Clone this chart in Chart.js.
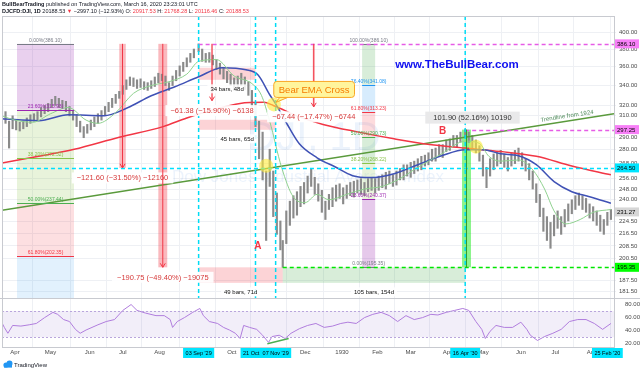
<!DOCTYPE html>
<html>
<head>
<meta charset="utf-8">
<title>DJI 1929-1930</title>
<script src="https://cdn.jsdelivr.net/npm/chart.js@4.4.1/dist/chart.umd.min.js"></script>
<style>
  html, body { margin: 0; padding: 0; background: #fff; }
  #wrap { position: relative; width: 640px; height: 371px; }
</style>
</head>
<body>
<div id="wrap"><canvas id="chart" width="640" height="371"></canvas></div>
<script>
// x values are calendar days counted from 1 Apr 1929
const monthDays = [0, 30, 63, 91, 122, 155, 183, 214, 245, 276, 306, 334, 365, 395, 427, 456, 487];
const monthLabels = ['Apr', 'May', 'Jun', 'Jul', 'Aug', '', 'Oct', '', 'Dec', '1930', 'Feb', 'Mar', 'Apr', 'May', 'Jun', 'Jul', 'Aug'];
const priceTicks = [400, 380, 360, 340, 320, 310, 290, 280, 268, 256, 248, 240, 224.5, 216.5, 208.5, 200.5, 187.5, 181.5];
const rsiTicks = [80, 60, 40, 20];

const barDays = [
  -11, -8, -5, -2, 1, 4, 7, 10, 13, 16, 19, 22, 25, 28, 31, 34, 37, 40, 43, 46,
  49, 52, 55, 58, 61, 64, 67, 70, 73, 76, 79, 82, 85, 88, 91, 94, 97, 100, 103, 106,
  109, 112, 115, 118, 121, 124, 127, 130, 133, 136, 139, 142, 145, 148, 151,
  155, 158, 161, 164, 167, 170, 173, 176, 179, 182, 185, 188, 191, 194, 197, 200, 203, 206, 209, 212,
  215, 218, 221, 224, 226,
  229, 232, 235, 238, 241, 244, 247, 250, 253, 256, 259, 262, 265, 268, 271, 274, 277, 280, 283, 286,
  289, 292, 295, 298, 301, 304, 307, 310, 313, 316, 319, 322, 325, 328, 331, 334, 337, 340, 343, 346,
  349, 352, 355, 358, 361, 364, 367, 370, 373, 376, 380,
  383, 386, 389, 392, 395, 398, 401, 404, 407, 410, 413, 416, 419, 422, 425, 428, 431, 434, 437, 440,
  443, 446, 449, 452, 455, 458, 461, 464, 467, 470, 473, 476, 479, 482, 485, 488, 491, 494, 497, 500, 503
];
const barLow = [
  308, 303, 281, 298, 297, 296, 298, 300, 303, 305, 306, 309, 312, 314, 318, 320, 318, 317, 314, 310,
  306, 300, 295, 290, 294, 297, 300, 303, 306, 310, 314, 318, 322, 327, 331, 336, 340, 339, 337, 338,
  336, 335, 337, 339, 343, 345, 340, 335, 340, 345, 350, 355, 360, 365, 370,
  377, 366, 365, 365, 362, 357, 352, 347, 343, 340, 335, 338, 340, 336, 330, 318, 300, 272, 255, 212,
  250, 228, 216, 206, 195.35,
  210, 222, 227, 229, 235, 237, 245, 250, 244, 239, 231, 226, 233, 235, 239, 241, 237, 241, 243, 242,
  245, 244, 243, 246, 247, 245, 247, 249, 248, 252, 250, 251, 255, 255, 258, 257, 260, 262, 263, 266,
  267, 270, 270, 274, 273, 278, 279, 282, 282, 286, 290,
  286, 281, 277, 270, 258, 249, 258, 263, 266, 268, 265, 262, 266, 268, 270, 266, 262, 255, 248, 238,
  228, 218, 212, 207, 215, 220, 216, 221, 225, 230, 233, 236, 233, 231, 227, 225, 222, 218, 216, 222, 226
];
const barHigh = [
  318, 314, 305, 310, 306, 304, 305, 308, 311, 312, 314, 318, 320, 322, 326, 329, 327, 325, 324, 319,
  315, 311, 305, 300, 302, 306, 309, 312, 315, 319, 323, 327, 331, 334, 340, 346, 349, 348, 346, 347,
  344, 343, 345, 349, 353, 352, 350, 343, 350, 356, 361, 365, 370, 375, 380,
  386.1, 380, 375, 376, 373, 368, 364, 359, 355, 352, 348, 350, 353, 349, 344, 335, 322, 305, 295, 262,
  280, 262, 245, 225, 212,
  232, 239, 243, 246, 250, 253, 258, 263.5, 257, 252, 247, 239, 244, 249, 251, 252, 249, 251, 253, 254,
  255, 256, 253, 256, 257, 256, 258, 259, 261, 262, 259, 262, 264, 267, 267, 269, 270, 272, 274, 275,
  277, 280, 281, 284, 284, 288, 289, 292, 292, 295, 297.25,
  295, 292, 288, 283, 275, 265, 272, 276, 278, 279, 276, 273, 277, 279, 281, 277, 272, 268, 262, 252,
  244, 234, 228, 224, 229, 232, 228, 233, 237, 240, 243, 245, 243, 241, 237, 235, 232, 229, 226, 231, 233
];

const ema20Days = [-11, 0, 15, 30, 45, 60, 70, 85, 100, 115, 130, 145, 155, 170, 185, 200, 208, 215, 225, 235, 245, 255, 265, 280, 295, 310, 325, 340, 360, 380, 392, 400, 410, 425, 437, 447, 455, 465, 477, 488, 503];
const ema20Vals = [310, 306, 304, 312, 318, 306, 303, 313, 332, 340, 344, 352, 366, 368, 350, 342, 330, 305, 265, 242, 238, 244, 240, 244, 248, 250, 256, 265, 276, 287, 285, 274, 270, 271, 263, 248, 232, 223, 226, 231, 233];

const ema50Days = [-11, 20, 45, 75, 95, 115, 135, 155, 175, 195, 205, 215, 220, 230, 240, 255, 270, 285, 300, 320, 340, 360, 380, 395, 410, 425, 440, 455, 470, 485, 503];
const ema50Vals = [307.2, 305.4, 311.0, 310.1, 317.7, 329.6, 338.7, 349.2, 359.0, 356.7, 351.3, 330.6, 321.6, 301.7, 284.7, 272.8, 265.4, 258.3, 256.8, 259.9, 267.1, 274.5, 279.6, 279.6, 276.1, 274.5, 267.1, 253.7, 246.0, 242.3, 237.5];

const ma200Days = [-11, 20, 50, 88, 125, 145, 165, 190, 210, 218, 240, 260, 290, 320, 350, 380, 410, 440, 470, 503];
const ma200Vals = [268.5, 274, 280, 290.5, 300, 308, 315, 322, 323, 320, 309, 302, 295, 289, 284, 281, 278, 274, 266, 259];

const trendDays = [-11, 505.6];
const trendVals = [232.4, 312.0];

const rsiDays = [-11, -9, -6, -2, 5, 12, 18, 25, 32, 36, 41, 46, 51, 55, 60, 65, 70, 77, 84, 91, 98, 103, 110, 119, 126, 131, 133, 137, 143, 150, 156, 159, 164, 171, 176, 181, 186, 190, 193, 198, 204, 209, 214, 217, 223, 228, 233, 240, 247, 254, 261, 268, 275, 281, 288, 295, 302, 309, 316, 323, 330, 337, 344, 351, 357, 364, 371, 378, 383, 389, 394, 397, 401, 406, 413, 420, 427, 432, 435, 441, 447, 454, 461, 468, 475, 482, 489, 496, 503];
const rsiVals = [52, 45, 36, 48, 47, 49, 51, 60, 68, 65, 57, 54, 42, 36, 41, 45, 49, 54, 57, 71, 80, 71, 67, 63, 63, 57, 45, 54, 60, 68, 74, 63, 54, 51, 45, 41, 36, 28, 48, 45, 42, 33, 22, 31, 33, 28, 36, 43, 48, 51, 45, 47, 51, 53, 51, 60, 65, 68, 63, 54, 63, 57, 60, 65, 64, 68, 71, 74, 71, 54, 42, 28, 39, 48, 45, 45, 53, 42, 33, 25, 31, 36, 42, 54, 57, 57, 51, 42, 51];
const rsiDivDays = [213, 231];
const rsiDivVals = [20, 28];

// drawings
const fibLeftSpan = [1.7, 49.8];
const fibLeftPrices = [386.10, 315.93, 272.52, 237.44, 202.35];
const fibLeftLabels = ['0.00%(386.10)', '23.60%(315.93)', '38.20%(272.52)', '50.00%(237.44)', '61.80%(202.35)'];
const fibMidSpan = [293, 304];
const fibMidPrices = [195.35, 240.37, 268.22, 290.73, 313.23, 341.08, 386.10];
const fibMidLabels = ['0.00%(195.35)', '23.60%(240.37)', '38.20%(268.22)', '50.00%(290.73)', '61.80%(313.23)', '76.40%(341.08)', '100.00%(386.10)'];

const dropDays = [[88, 93.5], [121, 128.5], [251.3, 253], [165.7, 166.9]];
const dropFrom = [386.10, 386.10, 386.10, 386.10];
const dropTo = [264.50, 195.35, 318.66, 324.72];
const dropLabels = ['\u2212121.60 (\u221231.50%) \u221212160', '\u2212190.75 (\u221249.40%) \u221219075', '\u221267.44 (\u221217.47%) \u22126744', '\u221261.38 (\u221215.90%) \u22126138'];

const riseDays = [377.3, 384.9];
const riseFrom = 195.35, riseTo = 297.25;
const riseLabel = '101.90 (52.16%) 10190';

const spanDays = [[155, 203], [155, 220], [155, 226], [226, 380]];
const spanTop = [359.0, 306.3, 195.35, 195.35];
const spanBottom = [346.0, 297.1, 186.3, 186.3];
const spanLabels = ['34 bars, 48d', '45 bars, 65d', '49 bars, 71d', '105 bars, 154d'];

const markerDays = [155, 203, 220, 380, 500];
const markerLabels = ["03 Sep '29", "21 Oct '29", "07 Nov '29", "16 Apr '30", "25 Feb '20"];
const levelPrices = [386.10, 297.25, 264.50, 195.35];
const levelStart = [155, 380, -11, 226];
const axisMarks = [386.10, 297.25, 264.50, 231.27, 195.35];

const circleDays = [212, 218.5, 389];
const circlePrices = [266.3, 321, 282.2];

// ---- styles ----
const FONT = 'Arial, "Liberation Sans", sans-serif';
const font = (s, w) => (w || 'normal') + ' ' + s + 'px ' + FONT;
const fibLeftFills = ['rgba(156,39,176,0.22)', 'rgba(139,195,74,0.20)', 'rgba(139,195,74,0.20)', 'rgba(242,54,69,0.16)', 'rgba(33,150,243,0.13)'];
const fibLeftLines = ['#787b86', '#9c27b0', '#8bc34a', '#4caf50', '#f23645'];
const fibMidFills = ['rgba(156,39,176,0.25)', 'rgba(139,195,74,0.20)', 'rgba(76,175,80,0.22)', 'rgba(242,54,69,0.18)', 'rgba(33,150,243,0.18)', 'rgba(76,175,80,0.22)'];
const fibMidLines = ['#787b86', '#9c27b0', '#8bc34a', '#4caf50', '#f23645', '#2196f3', '#787b86'];
const levelColors = ['#e65ce6', '#e65ce6', '#00e0ff', '#00e600'];
const axisMarkColors = ['#f77ff7', '#f77ff7', '#00e5ff', '#d6d6d6', '#00ff00'];
const spanFills = ['rgba(242,54,69,0.22)', 'rgba(242,54,69,0.22)', 'rgba(242,54,69,0.22)', 'rgba(76,175,80,0.22)'];

function fillBands(ctx, x0, x1, ys, fills) {
  fills.forEach((c, i) => {
    ctx.fillStyle = c;
    const t = Math.min(ys[i], ys[i + 1]);
    ctx.fillRect(x0, t, x1 - x0, Math.abs(ys[i + 1] - ys[i]));
  });
}

function hLine(ctx, x0, x1, yy, color, width, dash) {
  ctx.strokeStyle = color;
  ctx.lineWidth = width;
  ctx.setLineDash(dash || []);
  ctx.beginPath();
  ctx.moveTo(x0, yy);
  ctx.lineTo(x1, yy);
  ctx.stroke();
  ctx.setLineDash([]);
}

function boxText(ctx, text, cx, cy, fnt, color, bg, padX, h) {
  ctx.font = fnt;
  const w = ctx.measureText(text).width + (padX || 8);
  h = h || 11;
  if (bg) {
    ctx.fillStyle = bg;
    ctx.fillRect(cx - w / 2, cy - h / 2, w, h);
  }
  ctx.fillStyle = color;
  ctx.textAlign = 'center';
  ctx.textBaseline = 'middle';
  ctx.fillText(text, cx, cy + 0.5);
}

function runs(ctx, x, yy, parts) {
  ctx.textAlign = 'left';
  ctx.textBaseline = 'middle';
  parts.forEach(p => {
    ctx.font = p[2];
    ctx.fillStyle = p[1];
    ctx.fillText(p[0], x, yy);
    x += ctx.measureText(p[0]).width;
  });
}

const overlays = {
  id: 'overlays',
  beforeDatasetsDraw(chart) {
    const {ctx, chartArea: a} = chart;
    const xs = chart.scales.x, ys = chart.scales.y, yr = chart.scales.yr;
    const X = d => xs.getPixelForValue(d), Y = p => ys.getPixelForValue(p);
    ctx.save();
    ctx.beginPath();
    ctx.rect(a.left, a.top, a.right - a.left, a.bottom - a.top);
    ctx.clip();

    // watermark
    const cx = (a.left + a.right) / 2, cy = (ys.top + ys.bottom) / 2;
    ctx.textAlign = 'center';
    ctx.textBaseline = 'middle';
    ctx.fillStyle = 'rgba(66,140,230,0.10)';
    ctx.font = font(40);
    ctx.fillText('DJI, 1D', cx + 6, cy - 18);
    ctx.font = font(17);
    ctx.fillText('Dow Jones Industrial Average Index', cx, cy + 20);

    // RSI band
    const r70 = yr.getPixelForValue(70), r30 = yr.getPixelForValue(30);
    ctx.fillStyle = 'rgba(126,87,194,0.10)';
    ctx.fillRect(a.left, r70, a.right - a.left, r30 - r70);

    fillBands(ctx, X(fibLeftSpan[0]), X(fibLeftSpan[1]), fibLeftPrices.map(Y).concat([ys.bottom]), fibLeftFills);
    fillBands(ctx, X(fibMidSpan[0]), X(fibMidSpan[1]), fibMidPrices.map(Y), fibMidFills);

    spanDays.forEach((s, i) => {
      ctx.fillStyle = spanFills[i];
      ctx.fillRect(X(s[0]), Y(spanTop[i]), X(s[1]) - X(s[0]), Y(spanBottom[i]) - Y(spanTop[i]));
    });

    dropDays.forEach((s, i) => {
      ctx.fillStyle = 'rgba(242,54,69,0.35)';
      ctx.fillRect(X(s[0]), Y(dropFrom[i]), X(s[1]) - X(s[0]), Y(dropTo[i]) - Y(dropFrom[i]));
    });

    ctx.fillStyle = 'rgba(0,230,0,0.45)';
    ctx.fillRect(X(riseDays[0]), Y(riseTo), X(riseDays[1]) - X(riseDays[0]), Y(riseFrom) - Y(riseTo));
    ctx.restore();
  },
  afterDatasetsDraw(chart) {
    const {ctx, chartArea: a} = chart;
    const xs = chart.scales.x, ys = chart.scales.y, yr = chart.scales.yr;
    const X = d => xs.getPixelForValue(d), Y = p => ys.getPixelForValue(p);
    ctx.save();
    ctx.beginPath();
    ctx.rect(a.left, a.top, a.right - a.left, a.bottom - a.top);
    ctx.clip();

    // RSI guide lines
    hLine(ctx, a.left, a.right, Math.round(yr.getPixelForValue(70)) + 0.5, '#b9a6dc', 1, [2, 2]);
    hLine(ctx, a.left, a.right, Math.round(yr.getPixelForValue(30)) + 0.5, '#b9a6dc', 1, [2, 2]);

    // fib lines + labels
    const drawFib = (span, prices, labels, colors) => {
      const x0 = X(span[0]), x1 = X(span[1]);
      prices.forEach((p, i) => {
        const yy = Math.round(Y(p)) + 0.5;
        hLine(ctx, x0, x1, yy, colors[i], 1);
        ctx.font = font(5);
        ctx.fillStyle = colors[i];
        ctx.textAlign = 'center';
        ctx.textBaseline = 'bottom';
        ctx.fillText(labels[i], (x0 + x1) / 2, yy - 1);
      });
    };
    drawFib(fibLeftSpan, fibLeftPrices, fibLeftLabels, fibLeftLines);
    drawFib(fibMidSpan, fibMidPrices, fibMidLabels, fibMidLines);

    // horizontal levels
    levelPrices.forEach((p, i) => {
      hLine(ctx, X(levelStart[i]), a.right, Math.round(Y(p)) + 0.5, levelColors[i], 1.3, [4, 3]);
    });
    // vertical markers
    ctx.strokeStyle = '#00dcf5';
    ctx.lineWidth = 1.5;
    ctx.setLineDash([4, 3]);
    markerDays.slice(0, 4).forEach(d => {
      ctx.beginPath();
      ctx.moveTo(X(d), ys.top);
      ctx.lineTo(X(d), ys.bottom);
      ctx.stroke();
    });
    ctx.setLineDash([]);

    // drop ranges
    dropDays.forEach((s, i) => {
      const px = (X(s[0]) + X(s[1])) / 2, t = Y(dropFrom[i]), b = Y(dropTo[i]);
      ctx.strokeStyle = '#f23645';
      ctx.lineWidth = 1;
      ctx.beginPath();
      ctx.moveTo(px, t);
      ctx.lineTo(px, b);
      ctx.stroke();
      ctx.beginPath();
      ctx.moveTo(px - 2.5, b - 4);
      ctx.lineTo(px, b);
      ctx.lineTo(px + 2.5, b - 4);
      ctx.stroke();
      boxText(ctx, dropLabels[i], px, b + 10, font(7.5), '#d63a3a', 'rgba(255,255,255,0.92)', 10, 11);
    });

    // rise range
    const rx = (X(riseDays[0]) + X(riseDays[1])) / 2;
    ctx.strokeStyle = '#2e9e2e';
    ctx.lineWidth = 1;
    ctx.beginPath();
    ctx.moveTo(rx, Y(riseFrom));
    ctx.lineTo(rx, Y(riseTo));
    ctx.stroke();
    boxText(ctx, riseLabel, rx + 6, Y(riseTo) - 12, font(7.5), '#333', '#e9e9ea', 16, 12);

    // date spans labels
    spanDays.forEach((s, i) => {
      boxText(ctx, spanLabels[i], (X(s[0]) + X(s[1])) / 2, Y(spanBottom[i]) + 9, font(6), '#111', 'rgba(255,255,255,0.85)', 6, 9);
    });

    // highlight circles
    circleDays.forEach((d, i) => {
      ctx.fillStyle = 'rgba(255,235,59,0.6)';
      ctx.beginPath();
      ctx.arc(X(d), Y(circlePrices[i]), 7, 0, Math.PI * 2);
      ctx.fill();
    });

    // Bear EMA Cross callout
    const bx = X(252.5), by = Y(336);
    ctx.font = font(9.5);
    const bw = ctx.measureText('Bear EMA Cross').width + 10;
    ctx.fillStyle = '#fff59d';
    ctx.strokeStyle = '#f9a825';
    ctx.lineWidth = 1;
    ctx.beginPath();
    ctx.moveTo(bx - bw / 2 + 6, by + 8);
    ctx.lineTo(X(218.5) + 2, Y(321) - 2);
    ctx.lineTo(bx - bw / 2 + 14, by + 8);
    ctx.closePath();
    ctx.fill();
    ctx.stroke();
    ctx.beginPath();
    ctx.roundRect(bx - bw / 2, by - 8, bw, 16, 3);
    ctx.fill();
    ctx.stroke();
    ctx.fillStyle = '#f57c00';
    ctx.textAlign = 'center';
    ctx.textBaseline = 'middle';
    ctx.fillText('Bear EMA Cross', bx, by + 0.5);

    // A / B
    ctx.font = font(10, 'bold');
    ctx.fillStyle = '#f23645';
    ctx.fillText('A', X(205), Y(208.5));
    ctx.fillText('B', X(361), Y(296));

    // site name
    ctx.font = font(11.5, 'bold');
    ctx.fillStyle = '#1010f0';
    ctx.fillText('www.TheBullBear.com', X(373), Y(362));

    // trendline caption
    const p0x = X(trendDays[0]), p0y = Y(trendVals[0]), p1x = X(trendDays[1]), p1y = Y(trendVals[1]);
    const ang = Math.atan2(p1y - p0y, p1x - p0x);
    const tx = X(466), ty = p0y + (tx - p0x) * Math.tan(ang) - 5;
    ctx.save();
    ctx.translate(tx, ty);
    ctx.rotate(ang);
    ctx.font = font(6);
    ctx.fillStyle = '#4e8a5a';
    ctx.fillText('Trendline from 1924', 0, 0);
    ctx.restore();

    ctx.restore();
  },
  afterDraw(chart) {
    const {ctx, chartArea: a} = chart;
    const xs = chart.scales.x, ys = chart.scales.y;
    ctx.save();
    // pane separator + frame
    hLine(ctx, 0, 640, Math.round(ys.bottom) + 0.5, '#c8cad0', 1);
    ctx.strokeStyle = '#c8cad0';
    ctx.strokeRect(a.left + 0.5, a.top + 0.5, a.right - a.left, a.bottom - a.top);

    // axis highlight labels
    axisMarks.forEach((p, i) => {
      const yy = ys.getPixelForValue(p);
      ctx.fillStyle = axisMarkColors[i];
      ctx.fillRect(a.right + 1, yy - 4.5, 24, 9);
      ctx.fillStyle = '#000';
      ctx.font = font(6);
      ctx.textAlign = 'left';
      ctx.textBaseline = 'middle';
      ctx.fillText(p.toFixed(2), a.right + 3, yy + 0.5);
    });
    markerDays.forEach((d, i) => {
      const px = xs.getPixelForValue(d);
      ctx.font = font(5.5);
      const w = ctx.measureText(markerLabels[i]).width + 5;
      ctx.fillStyle = '#00e5ff';
      ctx.fillRect(px - w / 2, a.bottom + 1, w, 10);
      ctx.fillStyle = '#000';
      ctx.textAlign = 'center';
      ctx.textBaseline = 'middle';
      ctx.fillText(markerLabels[i], px, a.bottom + 6.5);
    });

    // header
    const red = '#f23645', blk = '#131722';
    runs(ctx, 2, 4.5, [['BullBearTrading', blk, font(5.5, 'bold')], [' published on TradingView.com, March 16, 2020 23:23:01 UTC', blk, font(5.5)]]);
    runs(ctx, 2, 11.5, [
      ['DJCFD:DJI, 1D', blk, font(5.5, 'bold')], [' 20188.53 ', blk, font(5.5)], ['\u25BC', red, font(5.5)],
      [' \u22122997.10 (\u221212.93%) O: ', blk, font(5.5)], ['20917.53', red, font(5.5)],
      [' H: ', blk, font(5.5)], ['21768.28', red, font(5.5)], [' L: ', blk, font(5.5)], ['20116.46', red, font(5.5)],
      [' C: ', blk, font(5.5)], ['20188.53', red, font(5.5)]
    ]);

    // TradingView logo
    ctx.fillStyle = '#2196f3';
    ctx.beginPath();
    ctx.arc(6, 365, 2.6, 0, Math.PI * 2);
    ctx.arc(9.5, 363.5, 3, 0, Math.PI * 2);
    ctx.fill();
    ctx.fillRect(4, 365, 8, 2.6);
    runs(ctx, 14, 365, [['TradingView', '#131722', font(6)]]);
    ctx.restore();
  }
};

const pt = (days, vals) => days.map((d, i) => ({x: d, y: vals[i]}));

new Chart(document.getElementById('chart'), {
  type: 'line',
  data: {
    datasets: [
      {
        type: 'bar',
        data: barDays.map((d, i) => ({x: d, y: [barLow[i], barHigh[i]]})),
        backgroundColor: '#8a8a8a',
        barThickness: 1.5,
        yAxisID: 'y',
        order: 5
      },
      {data: pt(trendDays, trendVals), borderColor: '#5a9a3c', borderWidth: 1.5, pointRadius: 0, yAxisID: 'y', order: 4},
      {data: pt(ma200Days, ma200Vals), borderColor: '#f23645', borderWidth: 1.5, pointRadius: 0, cubicInterpolationMode: 'monotone', yAxisID: 'y', order: 3},
      {data: pt(ema50Days, ema50Vals), borderColor: '#3f51b5', borderWidth: 1.5, pointRadius: 0, cubicInterpolationMode: 'monotone', yAxisID: 'y', order: 2},
      {data: pt(ema20Days, ema20Vals), borderColor: '#8fd18f', borderWidth: 1, pointRadius: 0, cubicInterpolationMode: 'monotone', yAxisID: 'y', order: 1},
      {data: pt(rsiDays, rsiVals), borderColor: '#b07ddd', borderWidth: 1, pointRadius: 0, yAxisID: 'yr'},
      {data: pt(rsiDivDays, rsiDivVals), borderColor: '#4caf50', borderWidth: 1.5, pointRadius: 0, yAxisID: 'yr'}
    ]
  },
  options: {
    responsive: false,
    animation: false,
    devicePixelRatio: 1,
    layout: {padding: {left: 2, top: 16, right: 0, bottom: 14}},
    plugins: {legend: {display: false}, tooltip: {enabled: false}},
    scales: {
      x: {
        type: 'linear',
        min: -10.97,
        max: 505.6,
        offset: false,
        afterBuildTicks: s => { s.ticks = monthDays.map(v => ({value: v})); },
        afterFit: s => { s.height = 10; },
        ticks: {callback: (v, i) => monthLabels[i], font: {size: 6, family: FONT}, color: '#4a4a4a', padding: 2, autoSkip: false, maxRotation: 0},
        grid: {color: '#eef0f4', drawTicks: false},
        border: {color: '#b2b5be'}
      },
      y: {
        type: 'logarithmic',
        position: 'right',
        stack: 'panes',
        stackWeight: 282,
        min: 177.9,
        max: 420.3,
        afterBuildTicks: s => { s.ticks = priceTicks.map(v => ({value: v})); },
        afterFit: s => { s.width = 26; },
        ticks: {callback: v => Number(v).toFixed(2), font: {size: 6, family: FONT}, color: '#4a4a4a', padding: 3, autoSkip: false},
        grid: {color: '#eef0f4', drawTicks: true, tickLength: 2},
        border: {color: '#b2b5be'}
      },
      yr: {
        type: 'linear',
        position: 'right',
        stack: 'panes',
        stackWeight: 49,
        min: 15,
        max: 90,
        afterBuildTicks: s => { s.ticks = rsiTicks.map(v => ({value: v})); },
        afterFit: s => { s.width = 26; },
        ticks: {callback: v => Number(v).toFixed(2), font: {size: 6, family: FONT}, color: '#4a4a4a', padding: 3, autoSkip: false},
        grid: {display: false},
        border: {color: '#b2b5be'}
      }
    }
  },
  plugins: [overlays]
});
</script>
</body>
</html>
